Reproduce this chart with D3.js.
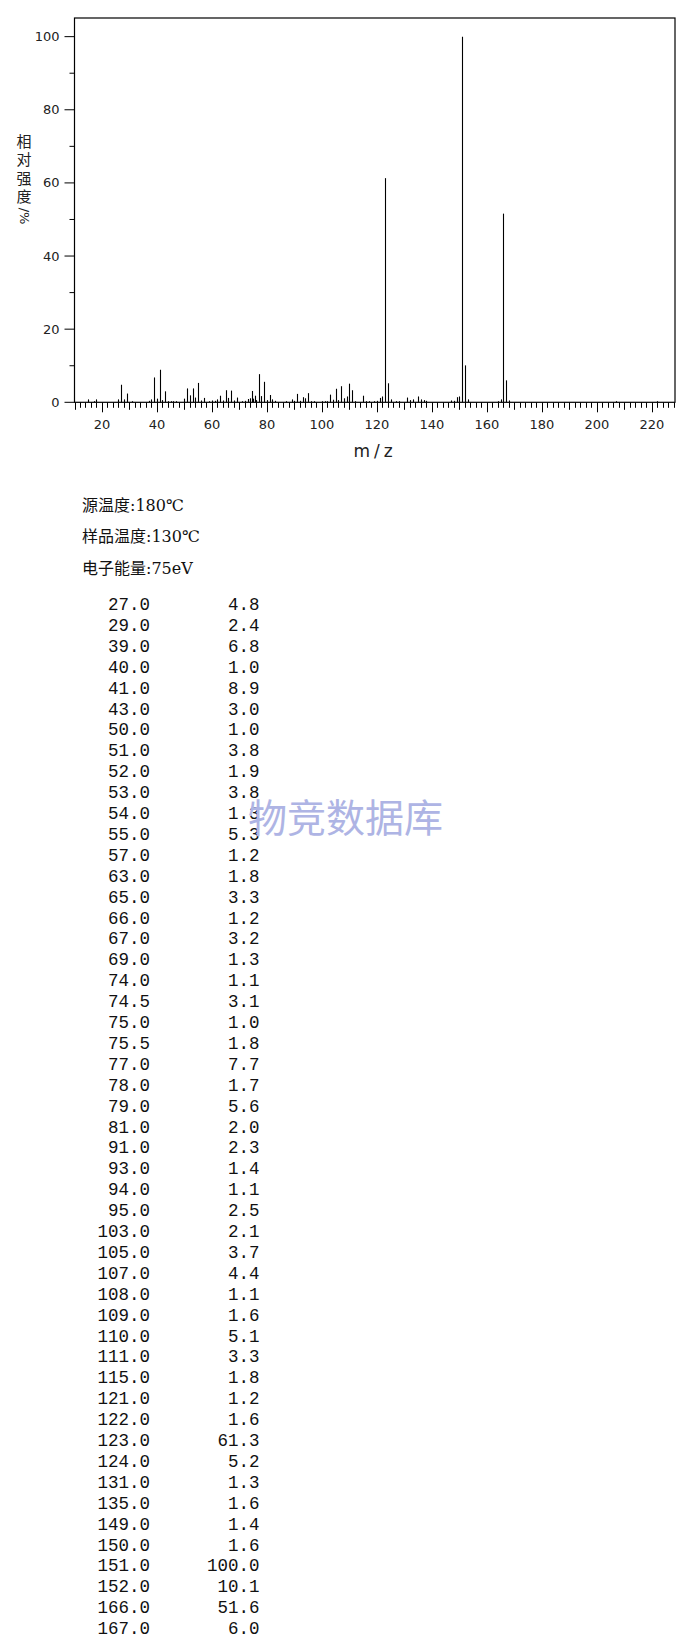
<!DOCTYPE html>
<html><head><meta charset="utf-8">
<script src="https://cdn.jsdelivr.net/npm/d3@7/dist/d3.min.js"></script>
<style>
html,body{margin:0;padding:0;background:#fff;}
svg{display:block;}
</style></head>
<body>
<script>
// m/z values and relative intensities (%) of all peaks drawn
const peakMz  = [15,17,18,26,27,28,29,31,37,38,39,40,41,42,43,44,45,46,47,50,51,52,53,54,55,56,57,59,60,61,62,63,64,65,66,67,68,69,71,72,73,74,74.5,75,75.5,76,77,78,79,80,81,82,83,87,89,90,91,92,93,94,95,96,97,100,101,102,103,104,105,106,107,108,109,110,111,112,115,116,117,119,120,121,122,123,124,125,127,128,131,132,133,135,136,137,138,147,148,149,150,151,152,153,164,165,166,167,168,207,222];
const peakInt = [0.8,0.3,0.8,0.8,4.8,0.8,2.4,0.3,0.4,0.8,6.8,1.0,8.9,0.6,3.0,0.3,0.3,0.3,0.3,1.0,3.8,1.9,3.8,1.3,5.3,0.5,1.2,0.3,0.5,0.4,0.8,1.8,0.5,3.3,1.2,3.2,0.5,1.3,0.3,0.4,0.9,1.1,3.1,1.0,1.8,0.6,7.7,1.7,5.6,0.6,2.0,0.8,0.4,0.3,0.8,0.4,2.3,0.4,1.4,1.1,2.5,0.3,0.3,0.3,0.3,0.3,2.1,0.7,3.7,0.6,4.4,1.1,1.6,5.1,3.3,0.3,1.8,0.3,0.3,0.3,0.4,1.2,1.6,61.3,5.2,0.8,0.3,0.3,1.3,0.6,0.8,1.6,0.8,0.6,0.4,0.5,0.4,1.4,1.6,100.0,10.1,0.8,0.3,0.8,51.6,6.0,0.5,0.3,0.3];
const yTickVals = [0,20,40,60,80,100];
const xTickVals = [20,40,60,80,100,120,140,160,180,200,220];
const infoLines = ["源温度:180℃","样品温度:130℃","电子能量:75eV"];
const yLabelCJK = ["相","对","强","度"];
const yLabelUnit = "/%";
const xLabel = "m/z";
const watermark = "物竞数据库";

const W = 691, H = 1635;
const svg = d3.select("body").append("svg").attr("width", W).attr("height", H);

const x = d3.scaleLinear().domain([10, 228.4]).range([74.5, 675]);
const y = d3.scaleLinear().domain([0, 105.1]).range([402.3, 18]);

// frame
svg.append("rect").attr("x", x.range()[0]).attr("y", y.range()[1])
  .attr("width", x.range()[1]-x.range()[0]).attr("height", y.range()[0]-y.range()[1])
  .attr("fill","none").attr("stroke","#000").attr("stroke-width",1.2);

// peaks
const peaks = peakMz.map((m,i)=>({m, v: peakInt[i]}));
svg.append("g").selectAll("line").data(peaks).join("line")
  .attr("x1", d=>Math.round(x(d.m))+0.5).attr("x2", d=>Math.round(x(d.m))+0.5)
  .attr("y1", y(0)).attr("y2", d=>y(d.v))
  .attr("stroke","#000").attr("stroke-width",1.1);

// y axis
const yMinor = d3.range(0, 101, 10);
const yAxis = svg.append("g");
yAxis.selectAll("line").data(yMinor).join("line")
  .attr("x1", d=> x.range()[0] - (d%20===0 ? 10 : 5)).attr("x2", x.range()[0])
  .attr("y1", d=>y(d)).attr("y2", d=>y(d)).attr("stroke","#000").attr("stroke-width",1);
yAxis.selectAll("text").data(yTickVals).join("text")
  .attr("x", 59.5).attr("y", d=>y(d)).attr("text-anchor","end").attr("dominant-baseline","central")
  .attr("font-family","DejaVu Sans").attr("font-size",13).attr("fill","#222").text(d=>d);

// x axis ticks
const xMinor = d3.range(10, 229, 2);
const xAxis = svg.append("g");
xAxis.selectAll("line").data(xMinor).join("line")
  .attr("x1", d=>Math.round(x(d))+0.5).attr("x2", d=>Math.round(x(d))+0.5)
  .attr("y1", y(0)).attr("y2", d=> y(0) + (d%20===0 ? 10 : (d%10===0 ? 7.5 : 5.5)))
  .attr("stroke","#000").attr("stroke-width",1);
xAxis.selectAll("text").data(xTickVals).join("text")
  .attr("x", d=>x(d)).attr("y", 424).attr("text-anchor","middle").attr("dominant-baseline","central")
  .attr("font-family","DejaVu Sans").attr("font-size",13).attr("fill","#222").text(d=>d);

svg.append("text").attr("x", 375).attr("y", 451).attr("text-anchor","middle").attr("dominant-baseline","central")
  .attr("font-family","DejaVu Sans").attr("font-size",17).attr("letter-spacing",4).attr("fill","#222").text(xLabel);

// vertical y label: CJK upright, unit rotated
const yl = svg.append("g").attr("fill","#222");
yl.selectAll("text").data(yLabelCJK).join("text")
  .attr("x", 24).attr("y", (d,i)=>140 + i*18.6).attr("text-anchor","middle").attr("dominant-baseline","central")
  .attr("font-family","Noto Sans CJK SC").attr("font-size",15).text(d=>d);
yl.append("text").attr("transform","translate(24,216) rotate(90)")
  .attr("text-anchor","middle").attr("dominant-baseline","central")
  .attr("font-family","DejaVu Sans").attr("font-size",13).text(yLabelUnit);

// info lines
svg.append("g").selectAll("text").data(infoLines).join("text")
  .attr("x", 82).attr("y", (d,i)=>505 + i*31.5).attr("dominant-baseline","central")
  .attr("font-family","'DejaVu Serif','Noto Sans CJK SC'").attr("font-size",16).attr("fill","#111").text(d=>d);

// table of peaks >= 1.0
const rows = peaks.filter(d=>d.v >= 1.0);
const tbl = svg.append("g").attr("font-family","Liberation Mono").attr("font-size",17.5).attr("fill","#111");
tbl.selectAll("text.mz").data(rows).join("text").attr("class","mz")
  .attr("x", 150).attr("y", (d,i)=>605 + i*20.9).attr("text-anchor","end").attr("dominant-baseline","central")
  .text(d=>d.m.toFixed(1));
tbl.selectAll("text.iv").data(rows).join("text").attr("class","iv")
  .attr("x", 259.5).attr("y", (d,i)=>605 + i*20.9).attr("text-anchor","end").attr("dominant-baseline","central")
  .text(d=>d.v.toFixed(1));

// watermark
svg.append("text").attr("x", 248).attr("y", 815).attr("dominant-baseline","central")
  .attr("font-family","Noto Sans CJK SC").attr("font-size",39).attr("fill","#aeb4e4").text(watermark);
</script>
</body></html>
